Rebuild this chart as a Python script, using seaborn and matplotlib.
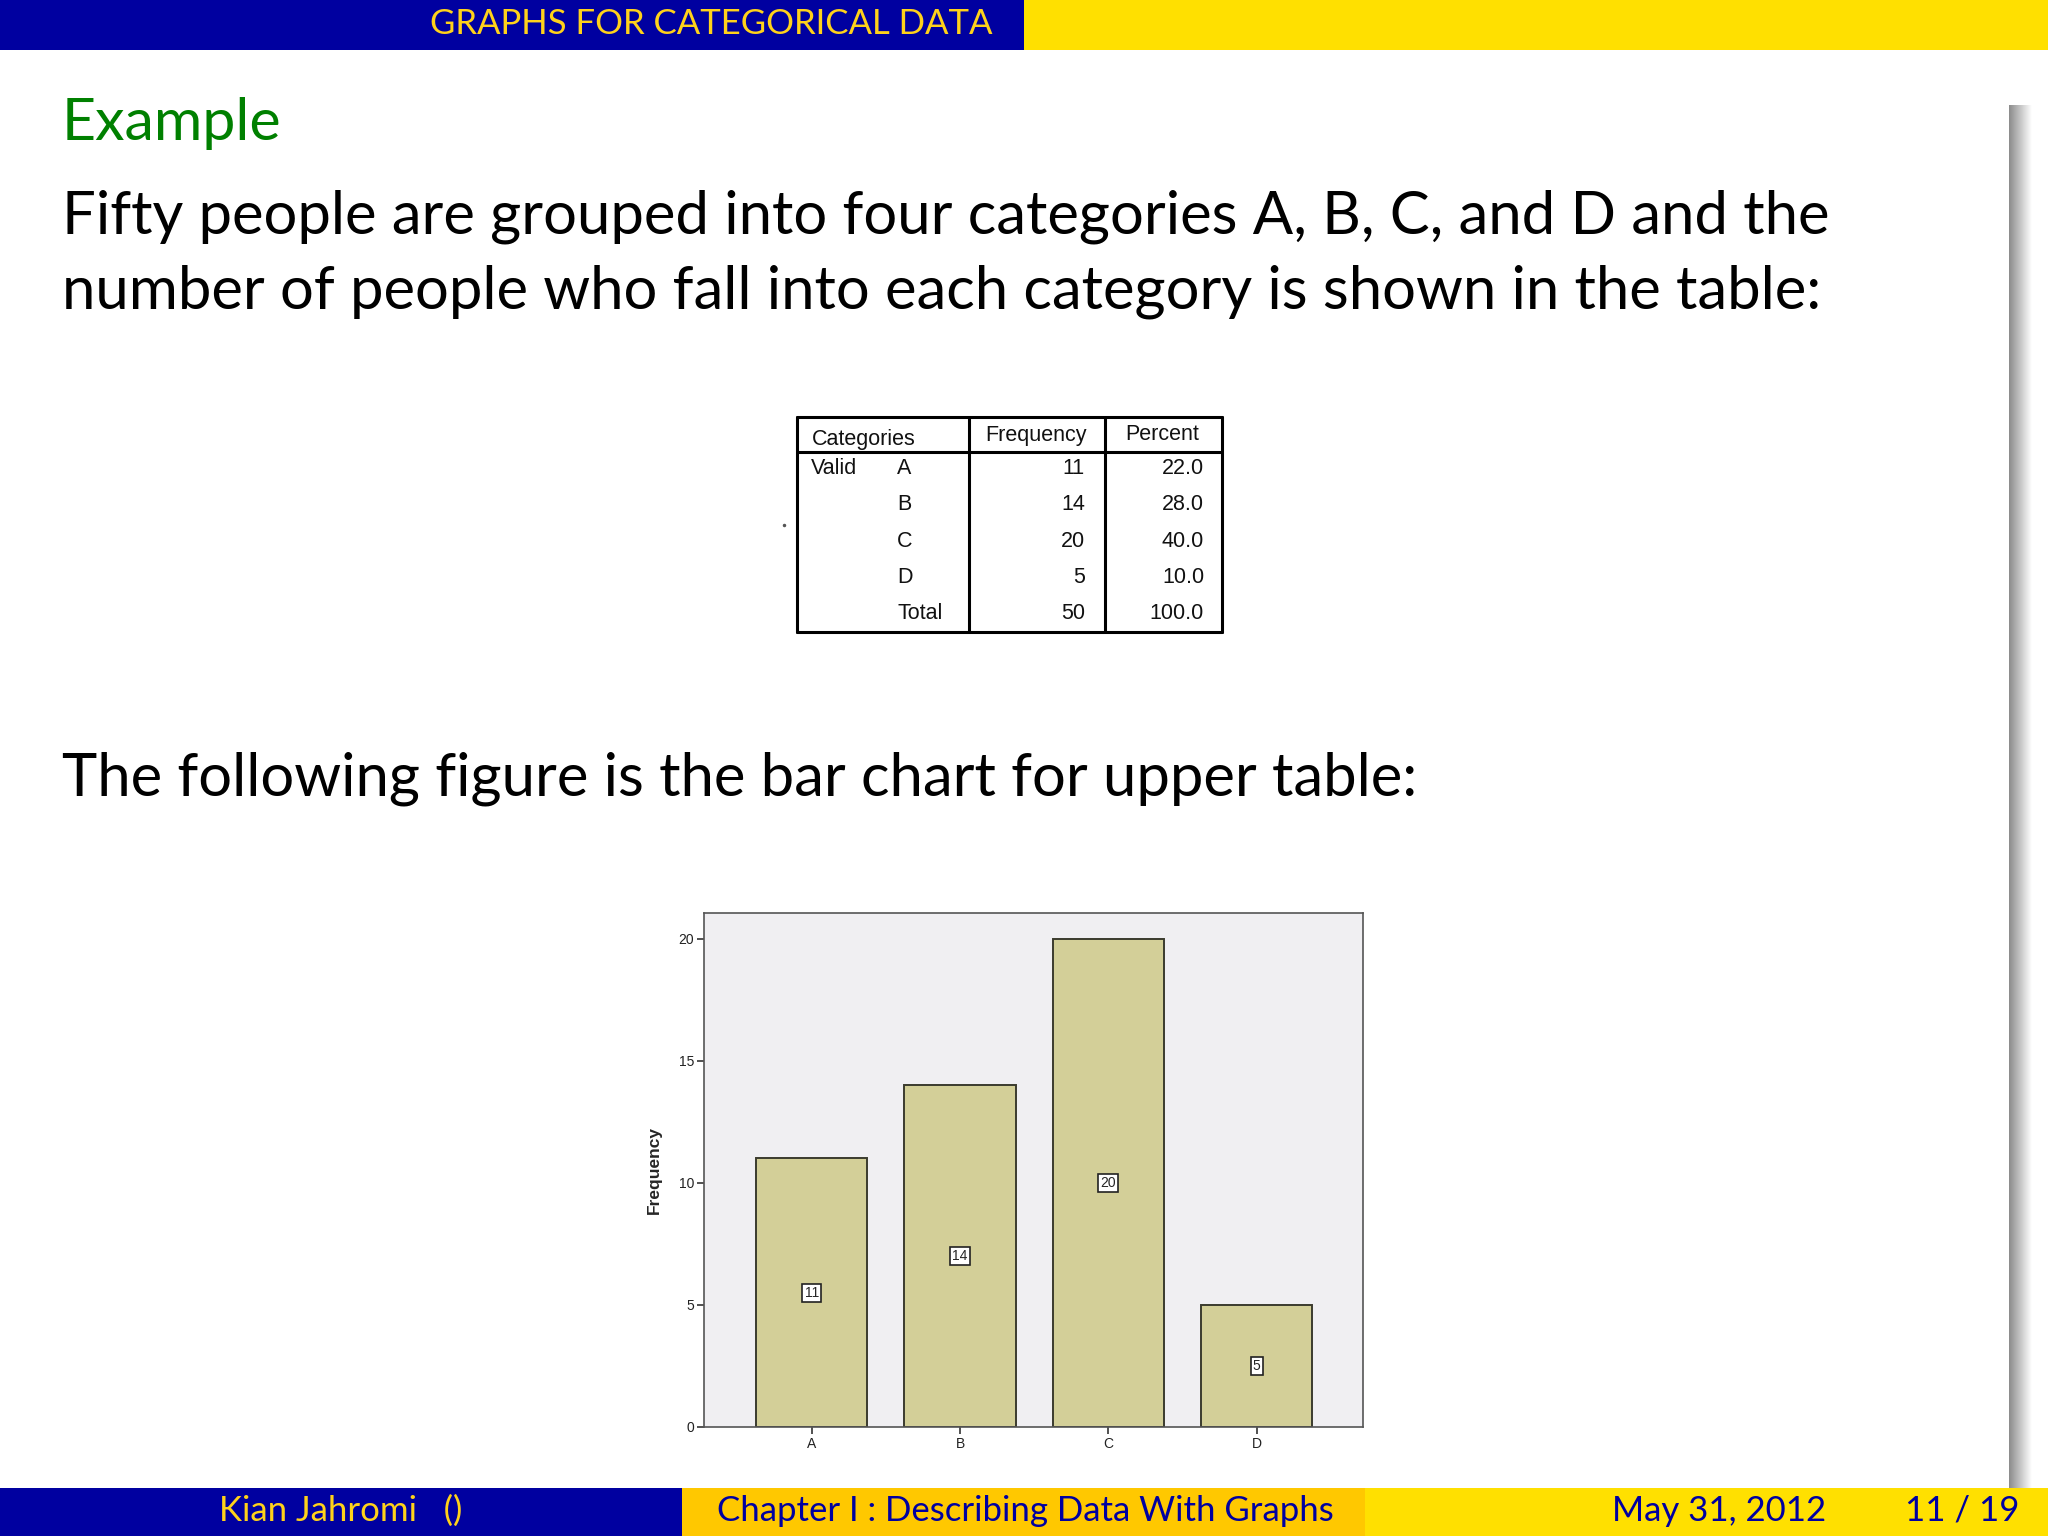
import matplotlib
matplotlib.use("Agg")
import matplotlib.pyplot as plt
import numpy as np
import pandas as pd
import seaborn as sns
from matplotlib.patches import Rectangle
from matplotlib.lines import Line2D

# chart data
categories = ["A", "B", "C", "D"]
frequency = [11, 14, 20, 5]
percent = [22.0, 28.0, 40.0, 10.0]
total_frequency = 50
total_percent = 100.0
y_ticks = [0, 5, 10, 15, 20]

# slide text
header_title = "GRAPHS FOR CATEGORICAL DATA"
frame_title = "Example"
body_lines = ["Fifty people are grouped into four categories A, B, C, and D and the",
              "number of people who fall into each category is shown in the table:"]
figure_line = "The following figure is the bar chart for upper table:"
footer_author = "Kian Jahromi   ()"
footer_chapter = "Chapter I : Describing Data With Graphs"
footer_date = "May 31, 2012"
footer_page = "11 / 19"

BLUE = "#0000A0"
YELLOW = "#FFE000"
ORANGE = "#FFC800"

sns.set_style("white")
plt.rcParams["font.family"] = ["Lato", "DejaVu Sans"]

W, H = 2048, 1536
fig = plt.figure(figsize=(W / 100, H / 100), dpi=100)
fig.patch.set_facecolor("white")


def fx(x):
    return x / W


def fy(y):
    return 1 - y / H


def band(x0, y0, x1, y1, color):
    fig.add_artist(Rectangle((fx(x0), fy(y1)), (x1 - x0) / W, (y1 - y0) / H,
                             transform=fig.transFigure, color=color, lw=0, zorder=0))


def hline(x0, x1, y, lw=1.8):
    fig.add_artist(Line2D([fx(x0), fx(x1)], [fy(y), fy(y)], transform=fig.transFigure,
                          color="black", lw=lw))


def vline(x, y0, y1, lw=1.8):
    fig.add_artist(Line2D([fx(x), fx(x)], [fy(y0), fy(y1)], transform=fig.transFigure,
                          color="black", lw=lw))


# header
band(0, 0, 1024, 50, BLUE)
band(1024, 0, 2048, 50, YELLOW)
fig.text(fx(993), fy(24), header_title, ha="right", va="center", color="#FFD21A", fontsize=25)

# footer
band(0, 1488, 682, 1536, BLUE)
band(682, 1488, 1365, 1536, ORANGE)
band(1365, 1488, 2048, 1536, YELLOW)
fig.text(fx(341), fy(1511), footer_author, ha="center", va="center", color="#FFD21A", fontsize=25)
fig.text(fx(1025), fy(1511), footer_chapter, ha="center", va="center", color=BLUE, fontsize=25)
fig.text(fx(1719), fy(1511), footer_date, ha="center", va="center", color=BLUE, fontsize=25)
fig.text(fx(1962), fy(1511), footer_page, ha="center", va="center", color=BLUE, fontsize=25)

# page shadow on the right
sh = fig.add_axes([fx(2009), fy(1488), 23 / W, (1488 - 105) / H])
grad = np.linspace(0.55, 1.0, 50)[None, :]
sh.imshow(np.repeat(grad, 10, axis=0), cmap="gray", vmin=0, vmax=1, aspect="auto")
sh.axis("off")

# title and body text
fig.text(fx(62), fy(124), frame_title, ha="left", va="center", color="#008000", fontsize=42.5)
for i, line in enumerate(body_lines):
    fig.text(fx(62), fy(217 + 75 * i), line, ha="left", va="center", color="black", fontsize=43)
fig.text(fx(62), fy(779), figure_line, ha="left", va="center", color="black", fontsize=43)

# frequency table
tfont = dict(family=["Liberation Sans", "DejaVu Sans"], fontsize=15.5, color="#111111")
vline(797, 417, 632, 2.2)
vline(1222, 417, 632, 2.2)
hline(797, 1222, 417, 2.2)
hline(797, 1222, 632, 2.2)
hline(797, 1222, 452, 2.2)
vline(969, 417, 632, 2.2)
vline(1105, 417, 632, 2.2)
fig.text(fx(812), fy(440), "Categories", ha="left", va="center", **tfont)
fig.text(fx(1036), fy(435), "Frequency", ha="center", va="center", **tfont)
fig.text(fx(1162), fy(435), "Percent", ha="center", va="center", **tfont)
row_labels = categories + ["Total"]
row_freq = frequency + [total_frequency]
row_pct = percent + [total_percent]
for i, (lab, f, p) in enumerate(zip(row_labels, row_freq, row_pct)):
    y = 469 + 36 * i
    if i == 0:
        fig.text(fx(811), fy(y), "Valid", ha="left", va="center", **tfont)
    fig.text(fx(897), fy(y), lab, ha="left", va="center", **tfont)
    fig.text(fx(1085), fy(y), f"{f}", ha="right", va="center", **tfont)
    fig.text(fx(1204), fy(y), f"{p:.1f}", ha="right", va="center", **tfont)
fig.add_artist(Line2D([fx(784)], [fy(525)], marker="o", markersize=1.5, color="#555555",
                      transform=fig.transFigure))

# bar chart
df = pd.DataFrame({"Category": categories, "Frequency": frequency})
ax = fig.add_axes([fx(704), fy(1427), (1363 - 704) / W, (1427 - 913) / H])
sns.barplot(data=df, x="Category", y="Frequency", color="#D3CF98", saturation=1,
            edgecolor="#3B3B2E", linewidth=1.4, width=0.75, ax=ax)
ax.set_facecolor("#F0EFF2")
ax.set_xlim(-0.726, 3.717)
ax.set_ylim(0, 21.05)
ax.set_yticks(y_ticks)
for s in ax.spines.values():
    s.set_visible(True)
    s.set_color("#555555")
    s.set_linewidth(1.2)
ax.tick_params(bottom=True, left=True, direction="out", length=5, width=1.2,
               color="#333333", labelsize=10, labelcolor="#222222", pad=2)
for lab in ax.get_xticklabels() + ax.get_yticklabels():
    lab.set_family(["Liberation Sans", "DejaVu Sans"])
ax.set_xlabel("")
ax.set_ylabel("Frequency", fontsize=12.5, fontweight="bold", family=["Liberation Sans", "DejaVu Sans"])
ax.yaxis.set_label_coords((662 - 704) / 659, 0.5)
for bar, val in zip(ax.patches, frequency):
    ax.text(bar.get_x() + bar.get_width() / 2, val / 2, f"{val}", ha="center", va="center",
            fontsize=10, family=["Liberation Sans", "DejaVu Sans"],
            bbox=dict(boxstyle="square,pad=0.15", fc="white", ec="#222222", lw=1.2))

fig.savefig("out.png", dpi=100)
